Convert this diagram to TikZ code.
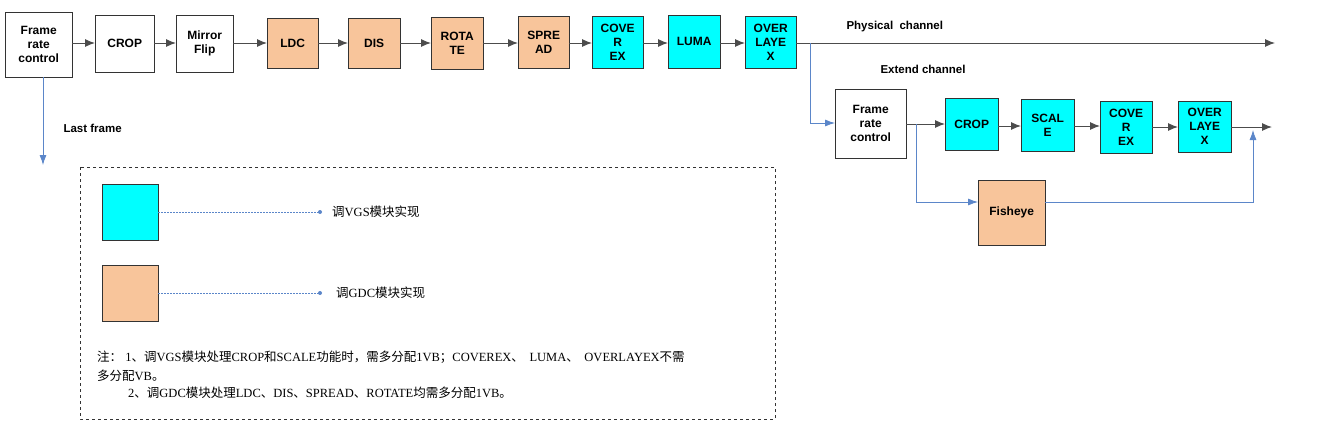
\documentclass[tikz,border=0pt]{standalone}
\usepackage{fontspec}
\setmainfont{Liberation Sans}
\newfontfamily\cjk{Noto Sans CJK SC}
\newfontfamily\tms{Liberation Serif}
\newcommand\tl[1]{{\tms #1}}
\usetikzlibrary{arrows.meta}
\definecolor{cy}{HTML}{00FFFF}
\definecolor{pe}{HTML}{F8C59B}
\definecolor{bl}{HTML}{5B86C9}
\tikzset{
 bx/.style={draw=black!80,fill=white,align=center,font=\bfseries\fontsize{12}{14}\selectfont,inner sep=0pt,anchor=north west},
 ar/.style={draw=black!70,line width=1pt,-{Latex[length=10pt,width=8pt]}},
 ba/.style={draw=bl,line width=0.8pt,-{Latex[length=10pt,width=7pt]}},
 lab/.style={font=\bfseries\fontsize{11.5}{13.5}\selectfont,anchor=west},
 note/.style={anchor=west,font=\cjk\fontsize{12.5}{14}\selectfont,inner sep=0pt},
}
\begin{document}
\begin{tikzpicture}[x=1pt,y=-1pt]
\useasboundingbox (0,0) rectangle (1317,437);
\newcommand\bxat[7]{\node[bx,#2,minimum width=#5pt,minimum height=#6pt] (#1) at (#3,#4) {#7};}
\bxat{f1}{}{5}{12}{67}{65}{Frame\\rate\\control}
\bxat{c1}{}{95}{15}{59}{57}{CROP}
\bxat{m1}{}{176}{15}{57}{57}{Mirror\\Flip}
\bxat{ldc}{fill=pe}{267}{18}{51}{50}{LDC}
\bxat{dis}{fill=pe}{348}{18}{52}{50}{DIS}
\bxat{rot}{fill=pe}{431}{17}{52}{52}{ROTA\\TE}
\bxat{spr}{fill=pe}{518}{16}{51}{52}{SPRE\\AD}
\bxat{cov}{fill=cy}{592}{16}{51}{52}{COVE\\R\\EX}
\bxat{luma}{fill=cy}{668}{15}{52}{53}{LUMA}
\bxat{ovl}{fill=cy}{745}{16}{51}{52}{OVER\\LAYE\\X}
\coordinate (pend) at (1275,43);
\foreach \a/\b in {f1/c1,c1/m1,m1/ldc,ldc/dis,dis/rot,rot/spr,spr/cov,cov/luma,luma/ovl}
  \draw[ar] (\a.east|-0,43) -- (\b.west|-0,43);
\draw[ar] (ovl.east|-0,43) -- (pend);
\node[lab] at (843,27) {Physical\ \ channel};
% extend
\bxat{f2}{}{835}{89}{71}{69}{Frame\\rate\\control}
\bxat{c2}{fill=cy}{945}{98}{53}{52}{CROP}
\bxat{sc}{fill=cy}{1021}{99}{53}{52}{SCAL\\E}
\bxat{cv2}{fill=cy}{1100}{101}{52}{52}{COVE\\R\\EX}
\bxat{ov2}{fill=cy}{1178}{101}{53}{51}{OVER\\LAYE\\X}
\bxat{fish}{fill=pe}{978}{180}{67}{65}{Fisheye}
\node[lab] at (877,69) {Extend channel};
\draw[ba] (810,43) |- (f2.west|-0,123);
\draw[ar] (f2.east|-0,124) -- (c2.west|-0,124);
\draw[ar] (c2.east|-0,126) -- (sc.west|-0,126);
\draw[ar] (sc.east|-0,126) -- (cv2.west|-0,126);
\draw[ar] (cv2.east|-0,127) -- (ov2.west|-0,127);
\coordinate (eend) at (1272,127);
\draw[ar] (ov2.east|-0,127) -- (eend);
\draw[ba] (916,124) |- (fish.west|-0,202);
\draw[ba] (fish.east|-0,202) -| (1253,130);
% last frame
\coordinate (lf) at (43,165);
\draw[ba] (f1.south-|43,0) -- (lf);
\node[lab] at (60,128) {Last frame};
% legend
\draw[dashed,black!80] (80,167) rectangle (775,419);
\node[draw=black!80,fill=cy,minimum size=56pt,inner sep=0pt] (lg1) at (130,212) {};
\node[draw=black!80,fill=pe,minimum size=56pt,inner sep=0pt] (lg2) at (130,293) {};
\coordinate (d1) at (320,212);
\coordinate (d2) at (320,293);
\draw[bl,dashed,dash pattern=on 2pt off 1pt] (lg1.east) -- (d1);
\draw[bl,dashed,dash pattern=on 2pt off 1pt] (lg2.east) -- (d2);
\fill[bl] (d1) circle (2pt); \fill[bl] (d2) circle (2pt);
\node[anchor=west,font=\cjk\fontsize{12.5}{14}\selectfont,inner sep=0pt] at (332,212) {调\tl{VGS}模块实现};
\node[anchor=west,font=\cjk\fontsize{12.5}{14}\selectfont,inner sep=0pt] at (336,293) {调\tl{GDC}模块实现};
\node[note] at (97,357) {注：\tl{ 1}、调\tl{VGS}模块处理\tl{CROP}和\tl{SCALE}功能时，需多分配\tl{1VB}；\tl{COVEREX}、\ \ \tl{LUMA}、\ \ \tl{OVERLAYEX}不需};
\node[note] at (97,376) {多分配\tl{VB}。};
\node[note] at (128,393) {\tl{2}、调\tl{GDC}模块处理\tl{LDC}、\tl{DIS}、\tl{SPREAD}、\tl{ROTATE}均需多分配\tl{1VB}。};
\end{tikzpicture}
\end{document}
